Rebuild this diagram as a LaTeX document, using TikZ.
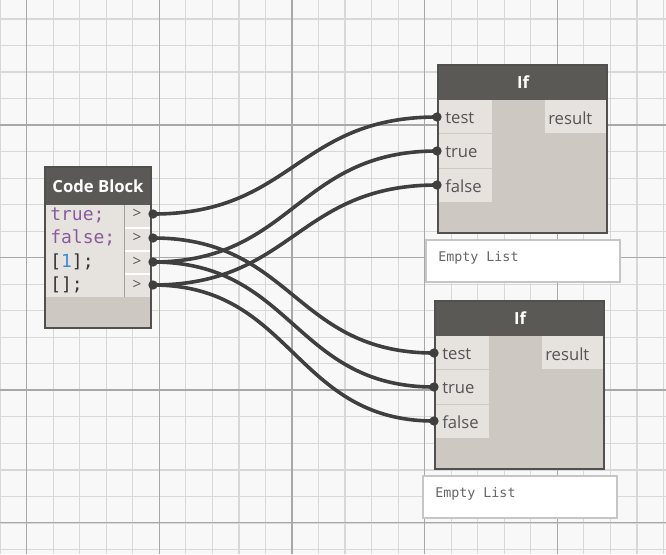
\documentclass[tikz,border=0pt]{standalone}
\usepackage{fontspec}
\usetikzlibrary{calc}
\setmainfont{Open Sans}
\newfontfamily\mono{DejaVu Sans Mono}
\definecolor{bg}{HTML}{F8F8F8}
\definecolor{minor}{HTML}{D8D8D8}
\definecolor{major}{HTML}{A8A8A8}
\definecolor{hdr}{HTML}{5B5956}
\definecolor{bodyc}{HTML}{CDC9C2}
\definecolor{portc}{HTML}{E6E3DE}
\definecolor{wire}{HTML}{3F3F3F}
\definecolor{txt}{HTML}{555555}
\definecolor{kw}{HTML}{8A5A9E}
\definecolor{num}{HTML}{3A8BD6}
\begin{document}
\begin{tikzpicture}[x=0.75pt,y=-0.75pt,
  wirestyle/.style={draw=wire,line width=2.7pt},
  dot/.style={circle,fill=wire,inner sep=0pt,minimum size=7pt},
  lab/.style={font=\fontsize{12.5}{12.5}\selectfont,text=txt,anchor=west,inner sep=0pt},
  code/.style={font=\mono\fontsize{13.5}{13.5}\selectfont,anchor=west,inner sep=0pt},
  title/.style={font=\bfseries\fontsize{12.5}{12.5}\selectfont,text=white,inner sep=0pt},
  info/.style={font=\mono\fontsize{10}{10}\selectfont,text=txt!90,anchor=west,inner sep=0pt}]
\useasboundingbox (0,0) rectangle (666,554);
\fill[bg] (0,0) rectangle (666,554);
% grid
\foreach \i in {0,...,25} {\draw[minor,line width=0.9pt] ({26.7+(\i-1)*26.53},0) -- ++(0,554);}
\foreach \i in {0,...,21} {\draw[minor,line width=0.9pt] (0,{-7.6+\i*26.53}) -- ++(666,0);}
\foreach \x in {26.7,159.3,292,424.7,557.3} {\draw[major,line width=0.9pt] (\x,0) -- (\x,554);}
\foreach \y in {125,257.7,390,522.7} {\draw[major,line width=0.9pt] (0,\y) -- (666,\y);}
% Code Block
\fill[bodyc] (45,167) rectangle (151,328);
\fill[portc] (45,205) rectangle (151,297);
\foreach \y in {228,251,274} {\draw[white,line width=0.8pt] (124,\y) -- (151,\y);}
\draw[bodyc!80!black,line width=0.6pt] (124,205) -- (124,297);
\fill[hdr] (45,167) rectangle (151,205);
\draw[hdr!90!black,line width=0.9pt] (45,167) rectangle (151,328);
\node[title] (cbt) at (98,186) {Code Block};
\node[code,text=kw] (c1) at (50,215) {true;};
\node[code,text=kw] (c2) at (50,238) {false;};
\node[code,text=txt!60!black] (c3) at (50,262) {[\textcolor{num}{1}];};
\node[code,text=txt!60!black] (c4) at (50,285) {[];};
\foreach \n/\y in {1/214,2/238,3/262,4/285} {\node[font=\fontsize{11.5}{11.5}\selectfont,text=txt,inner sep=0pt] at (137,\y) {>};
  \coordinate (o\n) at (153,\y);}
% If nodes
\foreach \k/\x/\y in {a/438/65,b/435/301} {
 \begin{scope}[shift={(\x,\y)}]
 \fill[bodyc] (0,0) rectangle (169,168);
 \fill[portc] (0,35) rectangle (54,68);
 \fill[portc] (0,69) rectangle (54,103);
 \fill[portc] (0,104) rectangle (54,137);
 \fill[portc] (107,35) rectangle (168,68);
 \fill[hdr] (0,0) rectangle (169,35);
 \draw[hdr!90!black,line width=0.9pt] (0,0) rectangle (169,168);
 \node[title] (\k t) at (85,17.5) {If};
 \node[lab] (\k 1) at (7,53) {test};
 \node[lab] (\k 2) at (7,87) {true};
 \node[lab] (\k 3) at (7,121) {false};
 \node[lab] (\k r) at (110,53) {result};
 \coordinate (\k i1) at (-1,52);
 \coordinate (\k i2) at (-1,86);
 \coordinate (\k i3) at (-1,120);
 \draw[fill=white,draw=minor!80!gray,line width=0.9pt] (-12,175) rectangle (182,217);
 \node[info] (\k e) at (0,193) {Empty List};
 \end{scope}}
% wires
\foreach \s/\t in {o1/ai1,o3/ai2,o4/ai3,o2/bi1,o3/bi2,o4/bi3}{
  \draw[wirestyle] (\s) .. controls ($(\s)+(140,0)$) and ($(\t)+(-140,0)$) .. (\t);
}
\foreach \p in {o1,o2,o3,o4,ai1,ai2,ai3,bi1,bi2,bi3} {\node[dot] at (\p) {};}
\end{tikzpicture}
\end{document}
